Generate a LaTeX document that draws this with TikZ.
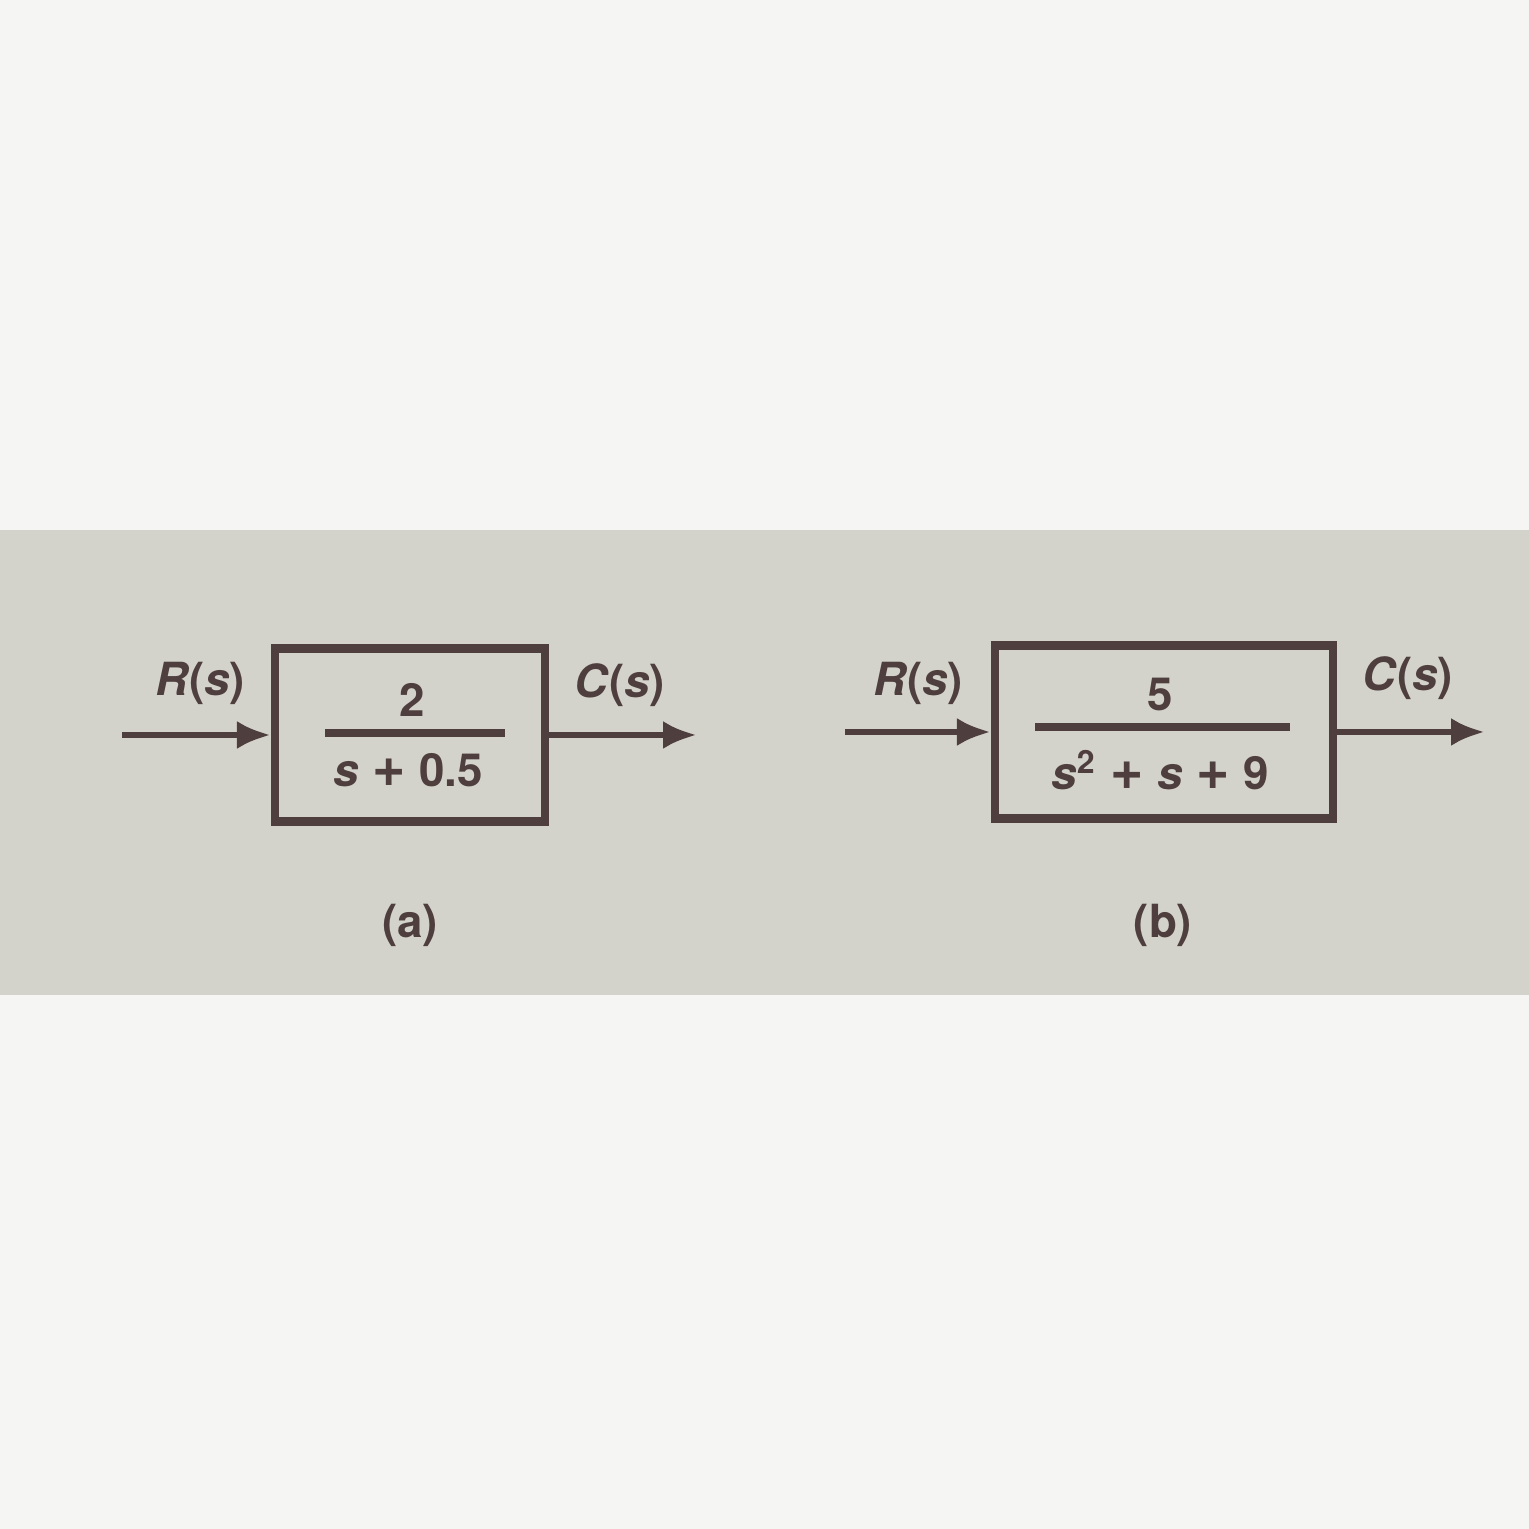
\documentclass[tikz,border=0pt]{standalone}
\usepackage{fontspec}
\setmainfont{TeX Gyre Heros}
\usetikzlibrary{arrows.meta}

\definecolor{ink}{HTML}{4E3E3D}
\definecolor{paper}{HTML}{D3D3CB}
\definecolor{page}{HTML}{F5F5F3}

\newcommand{\bigplus}{\hspace{0.3em}\scalebox{1.25}{+}\hspace{0.3em}}

\tikzset{
    block/.style={draw=ink, line width=2.3pt, minimum width=#1, minimum height=1.73cm, inner sep=0pt},
    sig/.style={ink, line width=1.9pt, -{Latex[length=0.34cm, width=0.28cm]}},
    lbl/.style={text=ink, font=\fontsize{13}{15}\selectfont\bfseries},
    frac/.style={ink, line width=2pt}
}

\begin{document}
\begin{tikzpicture}

    % page and grey strip
    \fill[page] (0,0) rectangle (15.29,15.29);
    \fill[paper] (0,5.34) rectangle (15.29,9.99);
    \useasboundingbox (0,0) rectangle (15.29,15.29);

    % Block (a)
    \node[block=2.70cm] (blocka) at (4.10,7.94) {};
    \node[lbl] (numa) at (4.12,8.29) {2};
    \draw[frac] (3.25,7.96) -- (5.05,7.96);
    \node[lbl] (dena) at (4.08,7.59) {\textit{s}\bigplus0.5};
    \coordinate (ina) at (1.22,7.94);
    \coordinate (outa) at (6.97,7.94);
    \draw[sig] (ina) -- (blocka);
    \draw[sig] (blocka) -- (outa);
    \node[lbl] (ra) at (2.00,8.46) {\textit{R}(\textit{s})};
    \node[lbl] (ca) at (6.20,8.44) {\textit{C}(\textit{s})};
    \node[lbl] (capa) at (4.10,6.04) {(a)};

    % Block (b)
    \node[block=3.38cm] (blockb) at (11.64,7.97) {};
    \node[lbl] (numb) at (11.60,8.34) {5};
    \draw[frac] (10.35,8.02) -- (12.90,8.02);
    \node[lbl] (denb) at (11.60,7.59) {\textit{s}\textsuperscript{2}\bigplus\textit{s}\bigplus9};
    \coordinate (inb) at (8.45,7.97);
    \coordinate (outb) at (14.85,7.97);
    \draw[sig] (inb) -- (blockb);
    \draw[sig] (blockb) -- (outb);
    \node[lbl] (rb) at (9.18,8.46) {\textit{R}(\textit{s})};
    \node[lbl] (cb) at (14.08,8.51) {\textit{C}(\textit{s})};
    \node[lbl] (capb) at (11.63,6.04) {(b)};

\end{tikzpicture}
\end{document}
